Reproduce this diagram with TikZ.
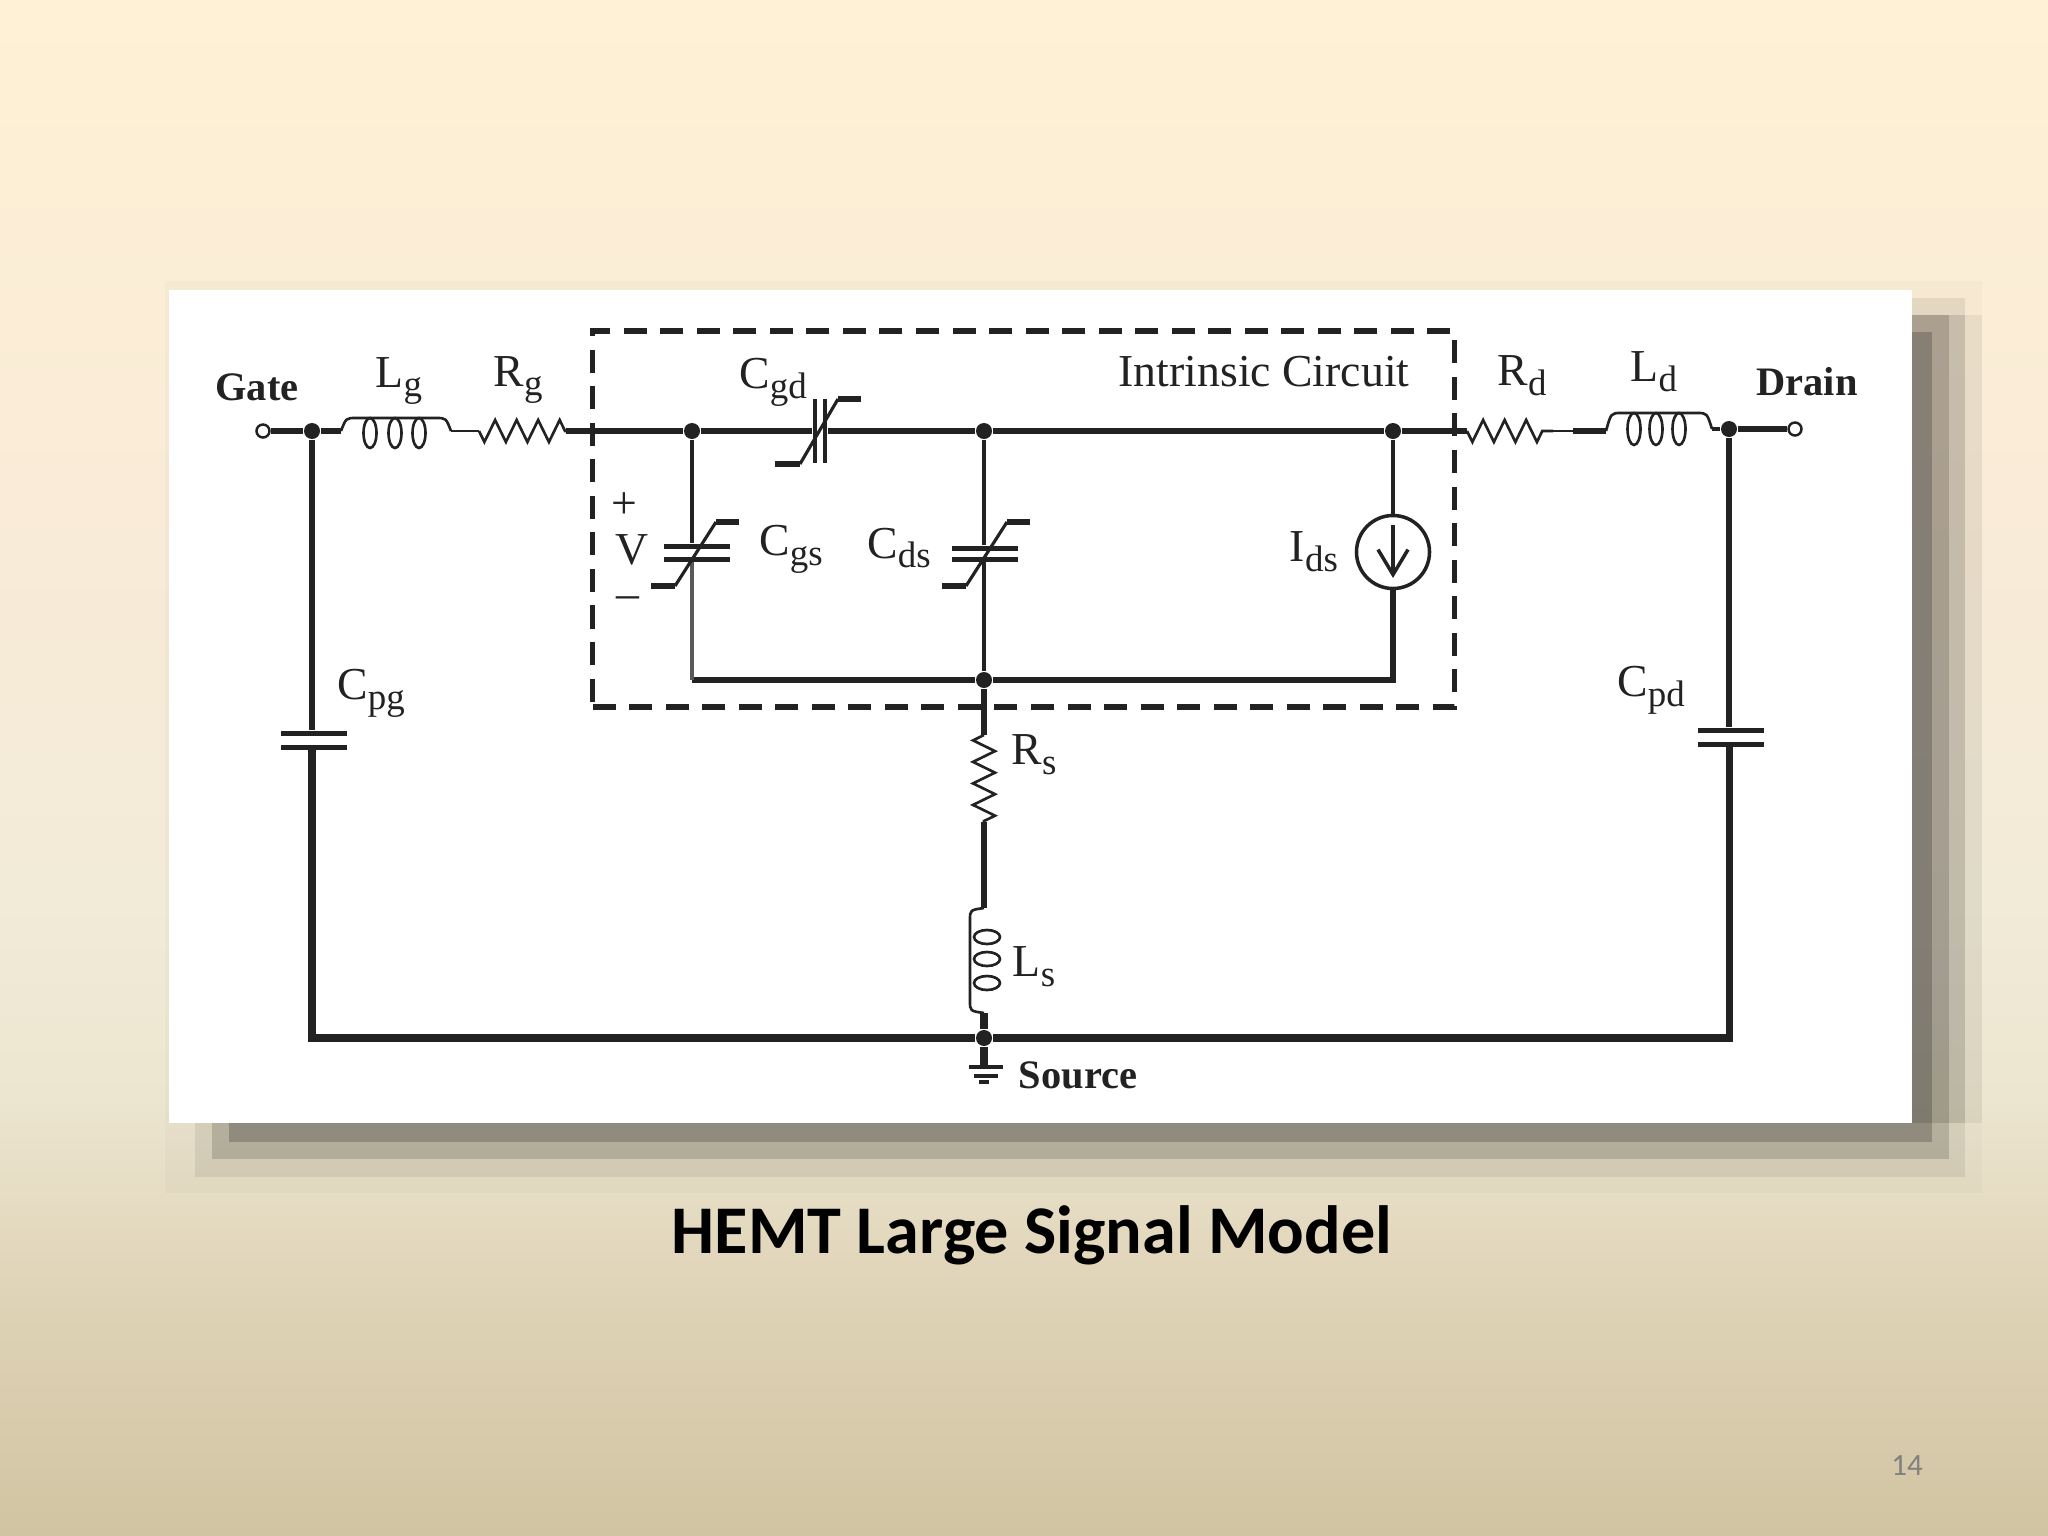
\documentclass[tikz,border=0pt]{standalone}
\usepackage{fontspec}
\setmainfont{Liberation Serif}
\newfontfamily\capfont{Carlito}
\usetikzlibrary{arrows.meta,decorations.pathmorphing}
\definecolor{ink}{HTML}{222222}
\definecolor{slbot}{HTML}{D1C4A2}
\definecolor{slc}{HTML}{DFD3B7}
\definecolor{sld}{HTML}{ECE5CF}
\definecolor{sle}{HTML}{F2EBD8}
\definecolor{slf}{HTML}{F9EBD7}
\definecolor{sltop}{HTML}{FEF1D5}
\pgfdeclareverticalshading{slidebg}{100bp}{color(0bp)=(slbot);
  color(25bp)=(slbot); color(32.7bp)=(slc); color(39.2bp)=(sld); color(45.7bp)=(sle);
  color(58.7bp)=(slf); color(75bp)=(sltop); color(100bp)=(sltop)}
\newcommand{\lsub}[2]{#1\raisebox{-2.8pt}{\fontsize{10.5}{12}\selectfont #2}}
\tikzstyle{junction}=[circle, fill=ink, minimum size=0.16cm, inner sep=0pt]
\tikzstyle{terminal}=[circle, draw=ink, line width=0.7pt, fill=white, minimum size=0.13cm, inner sep=0pt]
\tikzstyle{wire} = [draw=ink, line width=1.5pt, -]
\tikzstyle{thin wire} = [draw=ink, line width=1.1pt, -]
\tikzstyle{heavy wire} = [draw=ink, line width=2pt, -]
\tikzstyle{hair} = [draw=ink, line width=0.75pt, -]
\tikzstyle{stub} = [draw=ink, line width=1.6pt, -]
\tikzstyle{resistor} = [draw=ink, line width=0.75pt, decorate, decoration={zigzag, segment length=0.215cm, amplitude=0.11cm, mirror}]
\tikzstyle{plate} = [fill=ink, inner sep=0pt]
\tikzstyle{hplate} = [plate, minimum width=0.66cm, minimum height=0.05cm]
\tikzstyle{vplate} = [plate, minimum width=0.04cm, minimum height=0.63cm]
\tikzstyle{lab} = [text=ink, inner sep=0pt, font=\fontsize{13}{15}\selectfont]
\tikzstyle{port} = [text=ink, inner sep=0pt, font=\fontsize{11.5}{14}\selectfont\bfseries]
\tikzstyle{shadow} = [fill=black, draw=none]
\begin{document}
\begin{tikzpicture}[x=0.01cm, y=-0.01cm]
    \useasboundingbox (0,0) rectangle (2048,1536);
    \shade[shading=slidebg] (0,0) rectangle (2048,1536);
    % stepped shadow behind the panel
    \foreach \xa/\ya/\xb/\yb/\op in {165/281/1982/1193/0.02, 195/298/1965/1177/0.07, 212/315/1949/1159/0.15, 229/332/1932/1142/0.2, 1912/315/1982/1123/0.05, 1912/315/1965/1123/0.07}
        \path[shadow, fill opacity=\op] (\xa,\ya) rectangle (\xb,\yb);
    \node[fill=white, inner sep=0pt, minimum width=17.41cm, minimum height=8.33cm] (panel) at (1040.5,706.5) {};
    \node[draw=ink, line width=1.5pt, dash pattern=on 0.23cm off 0.135cm, inner sep=0pt, minimum width=8.61cm, minimum height=3.76cm] (intrinsic) at (1023.5,519) {};

    % junctions and terminals
    \foreach \pos/\name in {{(312,431)/gdot}, {(692,431)/cgsdot}, {(984,431)/cdsdot}, {(1393,431)/idsdot}, {(1729,429)/ddot}, {(984,680)/sdot}, {(984,1038)/gnddot}}
        \node[junction] (\name) at \pos {};
    \node[terminal] (gterm) at (263,431) {};
    \node[terminal] (dterm) at (1795,429) {};

    % capacitor plates
    \foreach \pos/\name in {{(697,546)/cgsT}, {(697,559)/cgsB}, {(985,548)/cdsT}, {(985,559)/cdsB}, {(314,733)/cpgT}, {(314,747)/cpgB}, {(1731,730)/cpdT}, {(1731,744)/cpdB}}
        \node[hplate] (\name) at \pos {};
    \foreach \pos/\name in {{(815,431)/cgdL}, {(825,431)/cgdR}}
        \node[vplate] (\name) at \pos {};

    % free ends of the coils and resistors
    \foreach \pos/\name in {{(341,431)/lgA}, {(451,431)/lgB}, {(479,431)/rgA}, {(566,431)/rgB}, {(1467,431)/rdA}, {(1553,431)/rdB}, {(1606,431)/ldA}, {(1712,429)/ldB}, {(984,735)/rsA}, {(984,822)/rsB}, {(984,908)/lsA}, {(984,1013)/lsB}, {(984,1067)/gndbar}, {(692,680)/cgsC}}
        \path \pos coordinate (\name);

    % wires
    \foreach \source/ \dest in {gterm/gdot, gdot/lgA, rgB/cgsdot, cgsdot/cgdL, cgdR/cdsdot, cdsdot/idsdot, idsdot/rdA, ddot/dterm, sdot/rsA, rsB/lsA, cgsC/sdot}
        \path[wire] (\source) -- (\dest);
    \path[thin wire] (ddot) -- (ldB);
    \path[wire] (rdB) ++(20,0) -- (ldA);
    \path[hair] (rdB) -- ++(25,0);
    \path[hair] (lgB) -- (rgA);
    \path[wire] (gdot) -- (gdot |- cpgT.north);
    \path[wire] (ddot) -- (ddot |- cpdT.north);
    \path[thin wire] (cgsdot) -- (cgsdot |- cgsT.north);
    \path[thin wire] (cdsdot) -- (cdsdot |- cdsT.north);
    \path[thin wire] (cdsdot |- cdsB.south) -- (sdot);
    \path[draw=ink!75, line width=0.9pt] (cgsdot |- cgsB.south) -- (cgsC);
    \node[circle, draw=ink, line width=1pt, minimum size=0.73cm, inner sep=0pt] (idssrc) at (1393,552) {};
    \path[thin wire] (idsdot) -- (idssrc);
    \path[wire] (idssrc) |- (sdot);
    \path[heavy wire] (gdot |- cpgB.south) |- (gnddot);
    \path[heavy wire] (ddot |- cpdB.south) |- (gnddot);
    \path[heavy wire] (lsB) -- (gnddot);
    \path[heavy wire] (gnddot) -- (gndbar);

    % resistors
    \foreach \source/ \dest in {rgA/rgB, rdA/rdB, rsA/rsB}
        \path[resistor] (\source) -- (\dest);

    % coils
    \path[hair] (lgA) .. controls (346,418) .. (356,418) -- (436,418) .. controls (446,418) .. (lgB);
    \foreach \cx in {370,395,419}
        \path[hair] (\cx,433) ellipse (6.5 and 15);
    \path[hair] (ldA) .. controls (1611,413) .. (1621,413) -- (1697,413) .. controls (1707,413) .. (ldB);
    \foreach \cx in {1634,1656,1679}
        \path[hair] (\cx,429) ellipse (6.5 and 16);
    \path[hair] (lsA) .. controls (970,910) .. (970,920) -- (970,1001) .. controls (970,1011) .. (lsB);
    \foreach \cy in {937,959,983}
        \path[hair] (987,\cy) ellipse (13 and 7);

    % ground
    \path[draw=ink, line width=1.4pt] (969,1067) -- (1003,1067);
    \path[draw=ink, line width=1.4pt] (974,1076) -- (998,1076);
    \path[draw=ink, line width=1.2pt] (979,1082) -- (989,1082);

    % variable capacitors
    \foreach \cx/\cy in {692/552, 983/552}{
        \path[hair, line width=0.9pt] (\cx-17,\cy+34) -- (\cx+24,\cy-30);
        \path[stub] (\cx-41,\cy+34) -- (\cx-17,\cy+34);
        \path[stub] (\cx+24,\cy-30) -- (\cx+47,\cy-30);
    }
    \path[hair, line width=0.9pt] (800,464) -- (838,399);
    \path[stub] (775,464) -- (800,464);
    \path[stub] (838,399) -- (861,399);

    % current arrow
    \path[draw=ink, line width=1pt, -{Straight Barb[length=0.25cm, width=0.3cm]}] (1393,525) -- (1393,578);

    % labels
    \node[port] (gatelab) at (257,387) {Gate};
    \node[port] (drainlab) at (1807,382) {Drain};
    \node[port] (sourcelab) at (1078,1075) {Source};
    \node[lab] (lglab) at (399,381) {\lsub{L}{g}};
    \node[lab] (rglab) at (518,380) {\lsub{R}{g}};
    \node[lab] (cgdlab) at (773,382) {\lsub{C}{gd}};
    \node[lab] (intlab) at (1264,372) {Intrinsic Circuit};
    \node[lab] (rdlab) at (1522,376) {\lsub{R}{d}};
    \node[lab] (ldlab) at (1654,372) {\lsub{L}{d}};
    \node[lab] (pluslab) at (624,506) {+};
    \node[lab] (vlab) at (632,550) {V};
    \node[lab] (minuslab) at (628,603) {\textendash};
    \node[lab] (cgslab) at (791,549) {\lsub{C}{gs}};
    \node[lab] (cdslab) at (899,548) {\lsub{C}{ds}};
    \node[lab] (idslab) at (1314,552) {\lsub{I}{ds}};
    \node[lab] (cpglab) at (371,693) {\lsub{C}{pg}};
    \node[lab] (cpdlab) at (1651,690) {\lsub{C}{pd}};
    \node[lab] (rslab) at (1034,755) {\lsub{R}{s}};
    \node[lab] (lslab) at (1034,967) {\lsub{L}{s}};

    % caption and page number
    \node[inner sep=0pt, text=black, font=\capfont\bfseries\fontsize{19.4}{23}\selectfont] (caption) at (1032,1235) {HEMT Large Signal Model};
    \node[inner sep=0pt, text=black!50, font=\capfont\fontsize{8.8}{10}\selectfont] (pageno) at (1907,1466) {14};
\end{tikzpicture}
\end{document}
